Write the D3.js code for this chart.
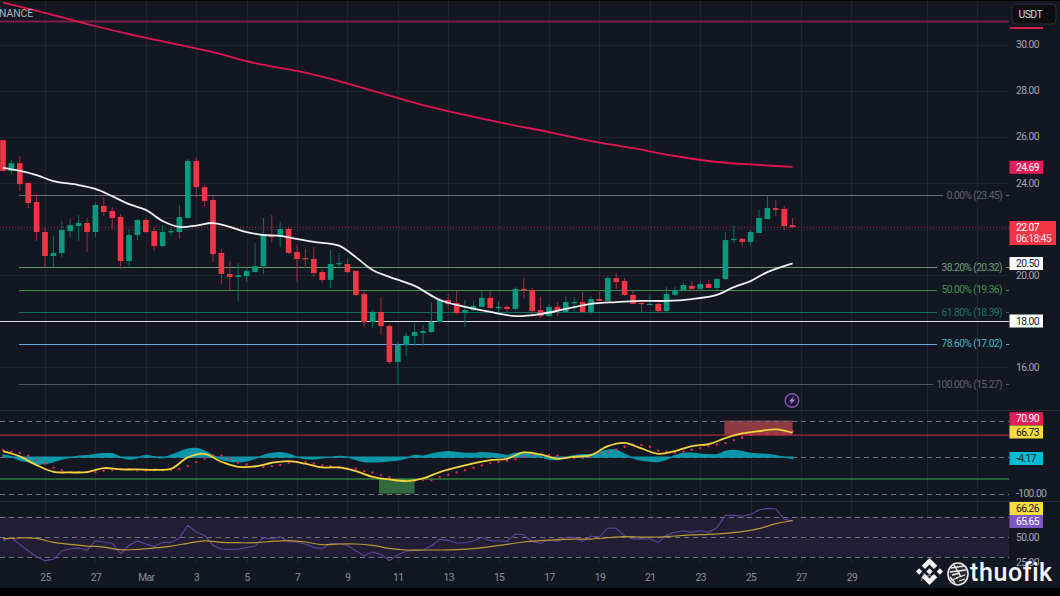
<!DOCTYPE html>
<html>
<head>
<meta charset="utf-8">
<script src="https://cdn.jsdelivr.net/npm/d3@7/dist/d3.min.js"></script>
<style>
html,body{margin:0;padding:0;background:#000;}
svg{display:block;}
text{font-family:Roboto,"Open Sans",sans-serif;letter-spacing:-0.6px;}
</style>
</head>
<body>
<svg id="chart" width="1060" height="596"></svg>
<script>
// 8-hour candles, Feb 23 onward
const opens=[25.85,24.51,24.85,23.99,23.16,21.86,20.82,20.95,21.90,22.12,22.25,21.86,22.99,22.77,22.51,20.60,21.73,22.38,21.90,21.25,21.86,21.86,22.47,24.94,23.81,23.25,20.95,20.04,19.91,19.95,20.12,20.38,21.73,21.64,21.99,20.99,20.73,20.69,20.12,19.78,20.47,20.47,20.17,19.17,17.95,18.39,17.78,16.22,16.95,17.35,17.48,17.52,17.95,18.91,18.78,18.34,18.47,18.61,19.00,18.56,18.61,18.52,19.39,19.34,18.47,18.21,18.61,18.39,18.78,18.82,18.39,18.95,18.87,19.86,19.73,19.13,18.78,18.69,18.74,18.43,19.13,19.34,19.52,19.39,19.60,19.43,19.82,21.51,21.56,21.43,21.82,22.42,22.90,22.86,22.16];
const highs=[25.85,24.98,25.16,24.03,23.51,22.08,21.69,22.34,22.42,22.60,22.47,23.16,23.38,22.95,22.64,21.99,22.42,22.47,22.08,22.16,22.08,23.03,25.03,25.11,23.90,23.42,21.12,20.60,20.51,20.34,21.38,22.47,22.60,22.29,22.08,21.30,21.12,21.21,20.25,21.08,20.95,20.69,20.17,19.30,18.47,19.04,17.87,17.09,17.48,17.91,17.82,18.82,19.00,19.17,19.30,18.91,18.87,19.30,19.30,18.87,18.69,19.47,19.86,19.43,19.04,18.74,18.82,19.08,19.04,19.26,19.08,19.34,19.95,20.08,19.86,19.30,18.82,19.13,18.78,19.47,19.47,19.65,19.73,19.73,19.78,19.86,21.86,22.16,21.60,21.95,22.82,23.42,23.25,22.99,22.47];
const lows=[24.51,24.38,23.64,22.90,21.47,20.34,20.34,20.77,21.64,21.47,20.99,21.64,22.55,21.99,20.25,20.38,21.51,21.82,21.04,21.21,21.69,21.56,22.47,23.34,22.95,20.56,19.60,19.34,18.87,19.69,20.12,20.04,21.43,21.21,20.90,19.69,20.30,19.91,19.65,19.43,20.25,20.08,19.08,17.74,17.69,17.39,16.13,15.26,16.48,16.91,16.91,17.48,17.95,18.52,18.30,17.74,18.43,18.61,18.52,18.34,18.39,18.47,18.95,18.17,18.13,18.21,18.21,18.39,18.34,18.39,18.30,18.87,18.87,19.39,19.08,18.74,18.39,18.69,18.34,18.34,19.08,19.30,19.30,19.39,19.43,19.34,19.78,21.38,21.21,21.25,21.82,22.42,22.55,21.95,22.03];
const closes=[24.51,24.85,23.94,23.12,21.86,20.82,20.95,21.95,22.16,22.25,21.86,23.03,22.73,22.47,20.60,21.73,22.38,21.86,21.25,21.86,21.90,22.51,24.94,23.81,23.21,20.90,20.04,19.91,19.99,20.17,20.38,21.73,21.64,21.99,20.95,20.69,20.69,20.08,19.78,20.47,20.51,20.12,19.13,17.95,18.39,17.78,16.22,16.95,17.35,17.52,17.56,17.95,18.91,18.74,18.34,18.47,18.65,19.00,18.56,18.61,18.52,19.39,19.34,18.43,18.21,18.61,18.43,18.82,18.82,18.39,18.95,18.87,19.86,19.69,19.13,18.74,18.74,18.74,18.43,19.17,19.34,19.56,19.39,19.60,19.43,19.82,21.51,21.56,21.43,21.86,22.47,22.90,22.82,22.12,22.07];

// Slow moving average, read every few candles
const slowMaIdx=[0,5,10,15,20,25,30,35,40,45,50,55,60,65,70,75,80,85,90,94];
const slowMa=[31.82,31.37,30.89,30.45,30.06,29.67,29.19,28.85,28.41,27.89,27.37,26.94,26.55,26.20,25.81,25.50,25.16,24.90,24.77,24.69];

// Fast moving average
const fastMaIdx=[0,2,4,6,9,11,13,15,17,19,21,23,25,27,29,31,33,35,37,40,42,44,46,49,52,55,58,61,64,67,70,73,76,79,82,85,87,89,91,94];
const fastMa=[24.64,24.51,24.33,24.07,23.90,23.73,23.42,23.07,22.82,22.34,22.08,22.14,22.25,22.08,21.86,21.73,21.69,21.56,21.43,21.27,20.77,20.21,19.91,19.52,18.91,18.61,18.39,18.21,18.30,18.52,18.74,18.82,18.87,18.87,18.95,19.13,19.47,19.73,20.12,20.50];

// Momentum pane: histogram per candle, signal dots per candle, main line every two candles
const momentumHist=[5.5,0.9,-8.2,-12.8,-19.2,-17.4,-12.8,-5.5,-0.9,2.7,3.7,7.3,9.1,9.1,0,-5.5,-1.8,4.6,0.9,-1.8,5.5,13.7,21.9,23.7,16.4,4.6,-5.5,-11,-12.8,-10,-3.7,4.6,10,11.9,8.2,0,-3.7,-4.6,-1.8,0,1.8,0,-6.4,-11.9,-12.8,-11.9,-10,-8.2,-2.7,4.6,2.7,8.2,12.8,14.6,12.8,10,10,11.9,11,8.2,4.6,10,12.8,10,2.7,-5.5,-6.4,-0.9,3.7,6.4,7.3,12.8,19.2,19.2,7.3,-1.8,-8.2,-11,-11.9,-5.5,3.7,10,11,8.2,6.4,6.4,15.5,18.3,14.6,10,8.2,7.3,3.7,0,-4.17];
const momentumSignal=[19.2,14.6,11.9,3.7,-8.2,-17.4,-29.2,-35.6,-41.1,-41.1,-41.1,-41.1,-37.4,-35.6,-32.9,-32.9,-36.5,-36.5,-35.6,-35.6,-35.6,-32.9,-24.7,-13.7,-3.7,4.6,3.7,-3.7,-14.6,-20.1,-25.6,-26.5,-24.7,-21.9,-15.5,-13.7,-13.7,-17.4,-22.8,-24.7,-28.3,-30.1,-32,-38.4,-42,-49.3,-55.7,-63,-65.8,-64.8,-63,-63,-54.8,-48.4,-42,-35.6,-29.2,-22.8,-16.4,-12.8,-10,-5.5,0.9,6.4,7.3,5.5,3.7,-1.8,-1.8,-1.8,0.9,10,14.6,21,28.3,33.8,32.9,28.3,17.4,14.6,12.8,15.5,20.1,24.7,30.1,33.8,38.4,46.6,53,61.2,64.8,64.8,64.8,66.7,70.9];
const momentumIdx=d3.range(0,95,2);
const momentumLine=[16.4,1.8,-21.9,-40.2,-42,-41,-30,-33.8,-33.8,-34.7,-32,-0.9,9.1,-12.8,-26.5,-25.6,-15.5,-11,-18,-28.3,-28.3,-38.4,-53.9,-61.2,-65.8,-58.4,-41,-28.3,-17.4,-8.2,-4.6,12.8,7.3,-4.6,0.9,5.5,30,39,23.7,9.1,16.4,30,35.6,52,64.8,71,75.8,66.73];

// RSI pane: RSI per candle, its average every two candles
const rsi=[46.4,49.3,42.8,36.5,30.6,26.7,28,36.2,38.5,39.2,36.9,46.4,45.1,43.8,33.6,41.8,46.1,43.1,40.5,44.7,44.7,49,61.5,54.9,51.6,41.8,38.2,37.8,38.2,39.5,41.1,49.3,48,50.3,45.1,45.1,42.8,39.8,38.5,43.8,43.4,41.8,36.5,31.6,35.2,32.9,26.7,32.6,35.9,36.9,37.2,41.1,47.7,46.7,44.1,44.4,46.1,49.7,46.4,46.1,45.7,53,52.3,45.4,43.8,47,45.7,49.7,49.7,45.7,51,50,58.9,58.5,51,48,48.4,48,44.7,52,54.6,56.2,54.6,56.2,54.6,59.2,71.3,71.3,70.4,72.3,76.6,78.2,77.6,67.7,65.65];
const rsiAvg=[48.4,49,48.7,44.7,42.8,41.1,40.1,37.5,37.8,39.2,41.1,43.8,46.1,44.7,44.4,44.4,45.7,46.4,45.1,42.4,43.1,43.1,41.8,38.8,37.2,37.2,37.2,37.5,38.5,40.5,42.8,45.1,46.4,47.4,48,48,49.3,50.3,50,50,51,52,52.6,53.6,55.3,58.2,63.1,66.26];

// Axis ticks
const priceTicks=[30,28,26,24,20,16];
const gridPrices=[30,28,26,24,22,20,18,16];
const timeGridIdx=[5,11,17,23,29,35,41,47,53,59,65,71,77,83,89,95,101,110,116];
const timeTickIdx=[5,11,17,23,29,35,41,47,53,59,65,71,77,83,89,95,101,110];
const timeTickText=["25","27","Mar","3","5","7","9","11","13","15","17","19","21","23","25","27","29","Apr"];

// Fibonacci retracement levels
const fibPrices=[23.45,20.32,19.36,18.39,17.02,15.27];
const fibPercents=["0.00%","38.20%","50.00%","61.80%","78.60%","100.00%"];
const fibLineColors=["#6d7079","#5f9a66","#3f8a48","#0e6f62","#5aa9e6","#55585f"];
const fibTextColors=["#5f626b","#6f9f72","#4a9150","#16786b","#46b4c0","#5f626b"];
const fibEnds=[943,937,937,937,937,933];

const resistance=31.00, roundLevel=18.00, lastPrice=22.07;
const overboughtSpan=[86,94], oversoldSpan=[45,49];

const plotR=1009;
const bg="#131722", up="#089981", down="#f23645";
const svg=d3.select("#chart");
const crisp=v=>Math.round(v)+.5;

const x=d3.scaleLinear().domain([0,94]).range([3,792.6]);
const y=d3.scaleLinear().domain([16,30]).range([367,44.5]);
const yM=d3.scaleLinear().domain([-100,100]).range([493.6,420.6]);
const yR=d3.scaleLinear().domain([30,70]).range([557.3,516.7]);

svg.append("rect").attr("width",1060).attr("height",596).attr("fill","#000");
svg.append("rect").attr("x",0).attr("y",1).attr("width",1060).attr("height",587).attr("fill",bg);

// RSI band sits beneath the grid
svg.append("rect").attr("x",0).attr("width",plotR).attr("y",yR(70)).attr("height",yR(30)-yR(70)).attr("fill","#221e36");

// Grid
const grid=svg.append("g").attr("stroke","#1f2430").attr("stroke-width",1);
grid.selectAll(".v").data(timeGridIdx).join("line")
  .attr("x1",d=>crisp(x(d))).attr("x2",d=>crisp(x(d))).attr("y1",1).attr("y2",563);
grid.selectAll(".h").data(gridPrices).join("line")
  .attr("x1",0).attr("x2",plotR).attr("y1",d=>crisp(y(d))).attr("y2",d=>crisp(y(d)));

// Pane separators
svg.append("g").attr("stroke","#262a35").selectAll("line").data([410.5,501.5]).join("line")
  .attr("x1",0).attr("x2",1060).attr("y1",d=>d).attr("y2",d=>d);

// Horizontal levels
svg.append("line").attr("x1",0).attr("x2",plotR).attr("y1",y(resistance)).attr("y2",y(resistance))
  .attr("stroke","#7d1f47").attr("stroke-width",2);
svg.append("line").attr("x1",0).attr("x2",plotR).attr("y1",y(lastPrice)).attr("y2",y(lastPrice))
  .attr("stroke","#b02a42").attr("stroke-width",1).attr("stroke-dasharray","1 2");

// Fibonacci lines and labels
const axisFont=10.3;
fibPrices.forEach((p,k)=>{
  svg.append("line").attr("x1",19).attr("x2",fibEnds[k]).attr("y1",crisp(y(p))).attr("y2",crisp(y(p)))
    .attr("stroke",fibLineColors[k]).attr("stroke-width",1);
  svg.append("line").attr("x1",1006).attr("x2",1009).attr("y1",crisp(y(p))).attr("y2",crisp(y(p)))
    .attr("stroke",fibLineColors[k]).attr("stroke-width",1);
  svg.append("text").attr("x",1002).attr("y",y(p)+3.7).attr("text-anchor","end")
    .attr("font-size",axisFont).attr("fill",fibTextColors[k]).text(`${fibPercents[k]} (${p.toFixed(2)})`);
});
svg.append("line").attr("x1",0).attr("x2",plotR).attr("y1",crisp(y(roundLevel))).attr("y2",crisp(y(roundLevel)))
  .attr("stroke","#d8d9dc").attr("stroke-width",1.2);

// Candles
const idx=d3.range(opens.length);
const candles=svg.append("g");
candles.selectAll(".wick").data(idx).join("line")
  .attr("x1",i=>x(i)).attr("x2",i=>x(i)).attr("y1",i=>y(highs[i])).attr("y2",i=>y(lows[i]))
  .attr("stroke",i=>closes[i]>=opens[i]?"#0b6f60":"#a32a3c").attr("stroke-width",1);
candles.selectAll(".body").data(idx).join("rect")
  .attr("x",i=>x(i)-2.8).attr("width",5.6)
  .attr("y",i=>y(Math.max(opens[i],closes[i])))
  .attr("height",i=>Math.max(1.2,Math.abs(y(opens[i])-y(closes[i]))))
  .attr("fill",i=>closes[i]>=opens[i]?up:down);

// Moving averages
const smooth=d3.line().curve(d3.curveCatmullRom);
svg.append("path").attr("fill","none").attr("stroke","#e0174f").attr("stroke-width",1.8)
  .attr("d",smooth(slowMaIdx.map((d,k)=>[x(d),y(slowMa[k])])));
svg.append("path").attr("fill","none").attr("stroke","#f0f0f2").attr("stroke-width",1.8)
  .attr("d",smooth(fastMaIdx.map((d,k)=>[x(d),y(fastMa[k])])));

// Shaded extremes in the momentum pane
svg.append("rect").attr("x",x(oversoldSpan[0])-2).attr("width",x(oversoldSpan[1])-x(oversoldSpan[0])+2)
  .attr("y",yM(-60)).attr("height",yM(-100)-yM(-60)).attr("fill","#33693f");
svg.append("rect").attr("x",x(overboughtSpan[0])-1).attr("width",x(overboughtSpan[1])-x(overboughtSpan[0])+1)
  .attr("y",yM(100)).attr("height",yM(60)-yM(100)).attr("fill","#8e3b40");

// Dashed bounds of both panes
const dashed=svg.append("g").attr("stroke","#70737d").attr("stroke-dasharray","5 4");
dashed.selectAll("line").data([yM(100),yM(0),yM(-100),yR(70),yR(50),yR(30)]).join("line")
  .attr("x1",0).attr("x2",plotR).attr("y1",d=>crisp(d)).attr("y2",d=>crisp(d));

svg.append("line").attr("x1",0).attr("x2",plotR).attr("y1",yM(60)).attr("y2",yM(60)).attr("stroke","#a8293d").attr("stroke-width",1.2);
svg.append("line").attr("x1",0).attr("x2",plotR).attr("y1",yM(-60)).attr("y2",yM(-60)).attr("stroke","#3fae49").attr("stroke-width",1.2);

// Momentum histogram, signal dots and main line
const histArea=d3.area().curve(d3.curveCatmullRom).x(i=>x(i)).y0(yM(0)).y1(i=>yM(momentumHist[i]));
svg.append("path").attr("fill","#0b96a8").attr("stroke","#0b96a8").attr("stroke-width",1.4).attr("d",histArea(idx));
svg.selectAll(".sig").data(idx).join("circle")
  .attr("cx",i=>x(i)).attr("cy",i=>yM(momentumSignal[i])).attr("r",1.2).attr("fill","#e5234f");
svg.append("path").attr("fill","none").attr("stroke","#f2d43c").attr("stroke-width",1.8)
  .attr("d",smooth(momentumIdx.map((d,k)=>[x(d),yM(momentumLine[k])])));

// RSI lines
svg.append("path").attr("fill","none").attr("stroke","#5e4596").attr("stroke-width",1.1)
  .attr("d",d3.line()(idx.map(i=>[x(i),yR(rsi[i])])));
svg.append("path").attr("fill","none").attr("stroke","#b89a35").attr("stroke-width",1.2)
  .attr("d",smooth(momentumIdx.map((d,k)=>[x(d),yR(rsiAvg[k])])));

// Price axis
const axisR=d3.axisRight(y).tickValues(priceTicks).tickSize(0).tickFormat(d=>d.toFixed(2));
const axG=svg.append("g").attr("transform","translate(1010,0)").call(axisR);
axG.select(".domain").remove();
axG.selectAll("text").attr("x",6).attr("font-size",axisFont).attr("fill","#a3a6af").attr("font-family","Roboto");

// Time axis
const xt=d3.axisBottom(x).tickValues(timeTickIdx).tickSize(0).tickFormat((d,k)=>timeTickText[k]);
const xG=svg.append("g").attr("transform","translate(0,569)").call(xt);
xG.select(".domain").remove();
xG.selectAll("text").attr("y",5).attr("font-size",axisFont).attr("fill","#8a8d96").attr("font-family","Roboto");

function tag(yc,h,fill,txt,color){
  svg.append("rect").attr("x",1009.5).attr("y",yc-h/2).attr("width",33.5).attr("height",h).attr("fill",fill);
  svg.append("text").attr("x",1016).attr("y",yc+3.7).attr("font-size",axisFont).attr("fill",color).text(txt);
}
tag(167.3,13,"#e01e5a",slowMa[slowMa.length-1].toFixed(2),"#fff");
svg.append("rect").attr("x",1009.5).attr("y",221).attr("width",46.5).attr("height",24).attr("fill",down);
svg.append("text").attr("x",1016).attr("y",231).attr("font-size",axisFont).attr("fill","#fff").text(lastPrice.toFixed(2));
svg.append("text").attr("x",1016).attr("y",242).attr("font-size",axisFont).attr("fill","#fde3e5").text("06:18:45");
tag(263.5,13,"#fff",fastMa[fastMa.length-1].toFixed(2),"#131722");
tag(321,13,"#fff",roundLevel.toFixed(2),"#131722");
tag(418.7,13,"#e01e5a",momentumSignal[94].toFixed(2),"#fff");
tag(432,13,"#f5dc3f",momentumLine[momentumLine.length-1].toFixed(2),"#131722");
tag(458.5,13,"#00bcd4",momentumHist[94].toFixed(2),"#131722");
svg.append("text").attr("x",1016).attr("y",497).attr("font-size",axisFont).attr("fill","#a3a6af").text("-100.00");
tag(508.5,13,"#f5dc3f",rsiAvg[rsiAvg.length-1].toFixed(2),"#131722");
tag(521.5,13,"#7e57c2",rsi[94].toFixed(2),"#fff");
svg.append("text").attr("x",1016).attr("y",540.5).attr("font-size",axisFont).attr("fill","#a3a6af").text("50.00");
svg.append("text").attr("x",1016).attr("y",566).attr("font-size",axisFont).attr("fill","#a3a6af").text("25.00");

// Currency button with the clipped resistance tag beneath it
svg.append("rect").attr("x",1010).attr("y",27).attr("width",33).attr("height",2).attr("fill","#d3214f");
svg.append("rect").attr("x",1012).attr("y",4).attr("width",44).attr("height",20).attr("rx",4)
  .attr("fill","#0e0e10").attr("stroke","#2a2e39");
svg.append("text").attr("x",1018.5).attr("y",18).attr("font-size",10.5).attr("fill","#d6d7db").text("USDT");

// Exchange caption
svg.append("text").attr("x",-1).attr("y",17).attr("font-size",axisFont).attr("fill","#b2b5be").style("letter-spacing","0").text("NANCE");

// Session marker
const mark=svg.append("g").attr("transform","translate(792,400.5)");
mark.append("circle").attr("r",6.8).attr("fill","#1d1733").attr("stroke","#7d55ad").attr("stroke-width",1.4);
mark.append("path").attr("d","M2,-4.6 L-3,1 L-0.4,1 L-2,4.6 L3,-1 L0.4,-1 Z").attr("fill","#b08fe0");

// Watermark: logo, avatar and handle
const logo=svg.append("g").attr("transform","translate(929.5,571.5) scale(1.18)").attr("fill","#f2f2f2");
logo.append("path").attr("d","M0,-11.5 L6.6,-4.9 L3.8,-2.1 L0,-5.9 L-3.8,-2.1 L-6.6,-4.9 Z");
logo.append("path").attr("d","M0,11.5 L6.6,4.9 L3.8,2.1 L0,5.9 L-3.8,2.1 L-6.6,4.9 Z");
[[0,0],[-8.8,0],[8.8,0]].forEach(c=>logo.append("path")
  .attr("d",`M${c[0]},${c[1]-2.7}L${c[0]+2.7},${c[1]}L${c[0]},${c[1]+2.7}L${c[0]-2.7},${c[1]}Z`));
const avatar=svg.append("g").attr("transform","translate(958,574)");
avatar.append("ellipse").attr("rx",10).attr("ry",11).attr("fill","#2a2c32").attr("stroke","#e8e8e8").attr("stroke-width",1.6);
const hatch=[[-7,-6,6,-8],[-8,-2,8,-4],[-6,1,2,-1],[-2,4,7,1],[-7,6,0,4],[1,7,7,5],[-4,-9,3,3],[-8,3,-3,9]];
avatar.selectAll("line").data(hatch).join("line")
  .attr("x1",d=>d[0]).attr("y1",d=>d[1]).attr("x2",d=>d[2]).attr("y2",d=>d[3])
  .attr("stroke","#f0f0f0").attr("stroke-width",1.3);
svg.append("text").attr("x",970).attr("y",581).attr("font-size",25).attr("font-weight",500)
  .attr("fill","#f6f6f6").style("letter-spacing","0.6px").text("thuofik");
</script>
</body>
</html>
